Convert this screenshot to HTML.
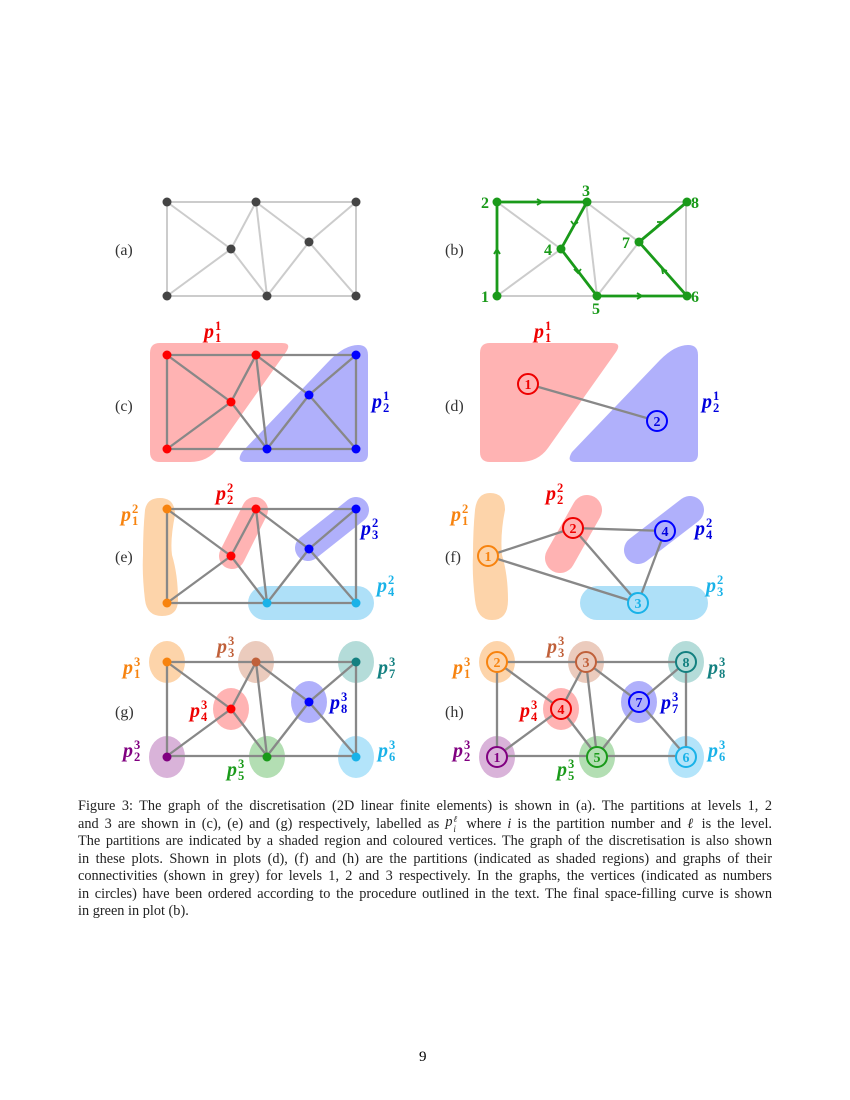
<!DOCTYPE html>
<html><head><meta charset="utf-8"><style>
html,body{margin:0;padding:0;background:#fff;}
body{width:850px;height:1100px;position:relative;overflow:hidden;font-family:"Liberation Serif",serif;}
.cap{position:absolute;left:78px;top:798px;width:694px;font-size:14.3px;line-height:17.5px;color:#222;}
.cap div{text-align:justify;text-align-last:justify;white-space:nowrap;height:17.5px;}
.cap div.last{text-align-last:left;}
.pi{display:inline-block;position:relative;width:15px;height:10px;}
.pi i.a{position:absolute;left:0;top:-4px;}
.pi b{position:absolute;left:8px;font-weight:normal;font-style:italic;font-size:9px;}
.pn{position:absolute;left:419px;top:1049px;font-size:15px;}
svg text{font-family:"Liberation Serif",serif;}
.pl{font-weight:bold;font-style:italic;font-size:20px;}
.pl tspan{font-size:12.5px;font-style:normal;}
.lb{font-size:16px;fill:#333;}
.nm{font-size:14px;font-weight:bold;text-anchor:middle;}
</style></head><body>
<svg width="850" height="1100" style="position:absolute;left:0;top:0">
<defs>
<g id="E">
<line x1="0" y1="0" x2="189" y2="0"/><line x1="0" y1="94" x2="189" y2="94"/>
<line x1="0" y1="0" x2="0" y2="94"/><line x1="189" y1="0" x2="189" y2="94"/>
<line x1="0" y1="0" x2="64" y2="47"/><line x1="64" y1="47" x2="89" y2="0"/>
<line x1="64" y1="47" x2="0" y2="94"/><line x1="64" y1="47" x2="100" y2="94"/>
<line x1="89" y1="0" x2="100" y2="94"/><line x1="89" y1="0" x2="142" y2="40"/>
<line x1="142" y1="40" x2="189" y2="0"/><line x1="142" y1="40" x2="100" y2="94"/>
<line x1="142" y1="40" x2="189" y2="94"/>
</g>
</defs>
<g class="lb">
<text x="115" y="255">(a)</text><text x="445" y="255">(b)</text>
<text x="115" y="411">(c)</text><text x="445" y="411">(d)</text>
<text x="115" y="562">(e)</text><text x="445" y="562">(f)</text>
<text x="115" y="717">(g)</text><text x="445" y="717">(h)</text>
</g>

<!-- (a) -->
<use href="#E" x="167" y="202" stroke="#ccc" stroke-width="2"/>
<g fill="#444">
<circle cx="167" cy="202" r="4.5"/><circle cx="256" cy="202" r="4.5"/><circle cx="356" cy="202" r="4.5"/>
<circle cx="231" cy="249" r="4.5"/><circle cx="309" cy="242" r="4.5"/>
<circle cx="167" cy="296" r="4.5"/><circle cx="267" cy="296" r="4.5"/><circle cx="356" cy="296" r="4.5"/>
</g>

<!-- (b) -->
<use href="#E" x="497" y="202" stroke="#ccc" stroke-width="2"/>
<polyline points="497,296 497,202 587,202 561,249 597,296 687,296 639,242 687,202" fill="none" stroke="#1a9a1a" stroke-width="2.8" stroke-linejoin="round"/>
<g fill="none" stroke="#1a9a1a" stroke-width="1.8">
<polyline points="494,254 497,249 500,254"/>
<polyline points="537,199 542,202 537,205"/>
<polyline points="571,221 574,225 578,222"/>
<polyline points="574,269 578,273 581,269"/>
<polyline points="637,293 642,296 637,299"/>
<polyline points="667,271 662,269 663,274"/>
<polyline points="656,227 662,222 657,222"/>
</g>
<g fill="#1a9a1a">
<circle cx="497" cy="296" r="4.5"/><circle cx="497" cy="202" r="4.5"/><circle cx="587" cy="202" r="4.5"/>
<circle cx="561" cy="249" r="4.5"/><circle cx="597" cy="296" r="4.5"/><circle cx="687" cy="296" r="4.5"/>
<circle cx="639" cy="242" r="4.5"/><circle cx="687" cy="202" r="4.5"/>
<g font-size="16" font-weight="bold">
<text x="481" y="302">1</text><text x="481" y="208">2</text><text x="582" y="196">3</text>
<text x="544" y="255">4</text><text x="592" y="314">5</text><text x="691" y="302">6</text>
<text x="622" y="248">7</text><text x="691" y="208">8</text>
</g></g>

<!-- (c) -->
<path d="M160,343 L282,343 Q292,343 286,352 L218,448 Q208,462 190,462 L160,462 Q150,462 150,452 L150,353 Q150,343 160,343Z" fill="#ffb3b3"/>
<path d="M245,462 L360,462 Q368,462 368,454 L368,355 Q368,345 358,345 Q345,345 330,360 L242,452 Q236,462 245,462Z" fill="#b0b0fb"/>
<use href="#E" x="167" y="355" stroke="#888" stroke-width="2.3"/>
<g fill="#f00"><circle cx="167" cy="355" r="4.5"/><circle cx="256" cy="355" r="4.5"/><circle cx="231" cy="402" r="4.5"/><circle cx="167" cy="449" r="4.5"/></g>
<g fill="#00f"><circle cx="356" cy="355" r="4.5"/><circle cx="309" cy="395" r="4.5"/><circle cx="267" cy="449" r="4.5"/><circle cx="356" cy="449" r="4.5"/></g>
<text class="pl" x="204" y="338" fill="#e00">p<tspan x="215" y="330">1</tspan><tspan x="215" y="342">1</tspan></text>
<text class="pl" x="372" y="408" fill="#00d">p<tspan x="383" y="400">1</tspan><tspan x="383" y="412">2</tspan></text>

<!-- (d) -->
<path d="M490,343 L612,343 Q622,343 616,352 L548,448 Q538,462 520,462 L490,462 Q480,462 480,452 L480,353 Q480,343 490,343Z" fill="#ffb3b3"/>
<path d="M575,462 L690,462 Q698,462 698,454 L698,355 Q698,345 688,345 Q675,345 660,360 L572,452 Q566,462 575,462Z" fill="#b0b0fb"/>
<line x1="528" y1="384" x2="657" y2="421" stroke="#888" stroke-width="2.3"/>
<circle cx="528" cy="384" r="10" fill="#ffb3b3" stroke="#e00" stroke-width="2"/>
<text class="nm" x="528" y="389" fill="#e00">1</text>
<circle cx="657" cy="421" r="10" fill="#b0b0fb" stroke="#00f" stroke-width="2"/>
<text class="nm" x="657" y="426" fill="#00d">2</text>
<text class="pl" x="534" y="338" fill="#e00">p<tspan x="545" y="330">1</tspan><tspan x="545" y="342">1</tspan></text>
<text class="pl" x="702" y="408" fill="#00d">p<tspan x="713" y="400">1</tspan><tspan x="713" y="412">2</tspan></text>

<!-- (e) -->
<path d="M160,498 Q175,498 175,515 Q170,540 172,555 Q178,575 178,600 Q178,616 162,616 Q147,616 145,600 Q142,575 143,555 Q143,530 145,510 Q147,498 160,498Z" fill="#fdd4aa"/>
<line x1="255" y1="510" x2="232" y2="556" stroke="#ffb3b3" stroke-width="26" stroke-linecap="round"/>
<line x1="356" y1="510" x2="308" y2="548" stroke="#b0b0fb" stroke-width="26" stroke-linecap="round"/>
<line x1="265" y1="603" x2="357" y2="603" stroke="#aee0f8" stroke-width="34" stroke-linecap="round"/>
<use href="#E" x="167" y="509" stroke="#888" stroke-width="2.3"/>
<g fill="#f7830f"><circle cx="167" cy="509" r="4.5"/><circle cx="167" cy="603" r="4.5"/></g>
<g fill="#f00"><circle cx="256" cy="509" r="4.5"/><circle cx="231" cy="556" r="4.5"/></g>
<g fill="#00f"><circle cx="356" cy="509" r="4.5"/><circle cx="309" cy="549" r="4.5"/></g>
<g fill="#19b2e8"><circle cx="267" cy="603" r="4.5"/><circle cx="356" cy="603" r="4.5"/></g>
<text class="pl" x="121" y="521" fill="#f7830f">p<tspan x="132" y="513">2</tspan><tspan x="132" y="525">1</tspan></text>
<text class="pl" x="216" y="500" fill="#e00">p<tspan x="227" y="492">2</tspan><tspan x="227" y="504">2</tspan></text>
<text class="pl" x="361" y="535" fill="#00d">p<tspan x="372" y="527">2</tspan><tspan x="372" y="539">3</tspan></text>
<text class="pl" x="377" y="592" fill="#19b2e8">p<tspan x="388" y="584">2</tspan><tspan x="388" y="596">4</tspan></text>

<!-- (f) -->
<path d="M490,493 Q505,493 505,510 Q500,535 502,555 Q508,575 508,600 Q508,620 492,620 Q477,620 475,600 Q472,575 473,555 Q473,530 475,510 Q477,493 490,493Z" fill="#fdd4aa"/>
<line x1="587" y1="510" x2="560" y2="558" stroke="#ffb3b3" stroke-width="30" stroke-linecap="round"/>
<line x1="690" y1="510" x2="638" y2="550" stroke="#b0b0fb" stroke-width="28" stroke-linecap="round"/>
<line x1="597" y1="603" x2="691" y2="603" stroke="#aee0f8" stroke-width="34" stroke-linecap="round"/>
<g stroke="#888" stroke-width="2.3">
<line x1="488" y1="556" x2="573" y2="528"/><line x1="488" y1="556" x2="638" y2="603"/>
<line x1="573" y1="528" x2="665" y2="531"/><line x1="573" y1="528" x2="638" y2="603"/>
<line x1="665" y1="531" x2="638" y2="603"/>
</g>
<g stroke-width="2">
<circle cx="488" cy="556" r="10" fill="#fdd4aa" stroke="#f7830f"/>
<circle cx="573" cy="528" r="10" fill="#ffb3b3" stroke="#e00"/>
<circle cx="665" cy="531" r="10" fill="#b0b0fb" stroke="#00f"/>
<circle cx="638" cy="603" r="10" fill="#aee0f8" stroke="#19b2e8"/>
</g>
<text class="nm" x="488" y="561" fill="#f7830f">1</text>
<text class="nm" x="573" y="533" fill="#e00">2</text>
<text class="nm" x="665" y="536" fill="#00d">4</text>
<text class="nm" x="638" y="608" fill="#19b2e8">3</text>
<text class="pl" x="451" y="521" fill="#f7830f">p<tspan x="462" y="513">2</tspan><tspan x="462" y="525">1</tspan></text>
<text class="pl" x="546" y="500" fill="#e00">p<tspan x="557" y="492">2</tspan><tspan x="557" y="504">2</tspan></text>
<text class="pl" x="695" y="535" fill="#00d">p<tspan x="706" y="527">2</tspan><tspan x="706" y="539">4</tspan></text>
<text class="pl" x="706" y="592" fill="#19b2e8">p<tspan x="717" y="584">2</tspan><tspan x="717" y="596">3</tspan></text>

<!-- (g) -->
<g>
<ellipse cx="167" cy="662" rx="18" ry="21" fill="#fdd4aa"/>
<ellipse cx="256" cy="662" rx="18" ry="21" fill="#ebcbbd"/>
<ellipse cx="356" cy="662" rx="18" ry="21" fill="#b4dcd9"/>
<ellipse cx="231" cy="709" rx="18" ry="21" fill="#ffb3b3"/>
<ellipse cx="309" cy="702" rx="18" ry="21" fill="#b0b0fb"/>
<ellipse cx="167" cy="757" rx="18" ry="21" fill="#d9b3d9"/>
<ellipse cx="267" cy="757" rx="18" ry="21" fill="#b3deb3"/>
<ellipse cx="356" cy="757" rx="18" ry="21" fill="#b3e4fa"/>
</g>
<use href="#E" x="167" y="662" stroke="#888" stroke-width="2.3"/>
<circle cx="167" cy="662" r="4.5" fill="#f7830f"/><circle cx="256" cy="662" r="4.5" fill="#c0603a"/>
<circle cx="356" cy="662" r="4.5" fill="#138080"/><circle cx="231" cy="709" r="4.5" fill="#f00"/>
<circle cx="309" cy="702" r="4.5" fill="#00f"/><circle cx="167" cy="757" r="4.5" fill="#800080"/>
<circle cx="267" cy="757" r="4.5" fill="#1a9a1a"/><circle cx="356" cy="757" r="4.5" fill="#19b2e8"/>
<text class="pl" x="123" y="674" fill="#f7830f">p<tspan x="134" y="666">3</tspan><tspan x="134" y="678">1</tspan></text>
<text class="pl" x="217" y="653" fill="#c0603a">p<tspan x="228" y="645">3</tspan><tspan x="228" y="657">3</tspan></text>
<text class="pl" x="378" y="674" fill="#138080">p<tspan x="389" y="666">3</tspan><tspan x="389" y="678">7</tspan></text>
<text class="pl" x="190" y="717" fill="#e00">p<tspan x="201" y="709">3</tspan><tspan x="201" y="721">4</tspan></text>
<text class="pl" x="330" y="709" fill="#00d">p<tspan x="341" y="701">3</tspan><tspan x="341" y="713">8</tspan></text>
<text class="pl" x="123" y="757" fill="#800080">p<tspan x="134" y="749">3</tspan><tspan x="134" y="761">2</tspan></text>
<text class="pl" x="227" y="776" fill="#1a9a1a">p<tspan x="238" y="768">3</tspan><tspan x="238" y="780">5</tspan></text>
<text class="pl" x="378" y="757" fill="#19b2e8">p<tspan x="389" y="749">3</tspan><tspan x="389" y="761">6</tspan></text>

<!-- (h) -->
<g>
<ellipse cx="497" cy="662" rx="18" ry="21" fill="#fdd4aa"/>
<ellipse cx="586" cy="662" rx="18" ry="21" fill="#ebcbbd"/>
<ellipse cx="686" cy="662" rx="18" ry="21" fill="#b4dcd9"/>
<ellipse cx="561" cy="709" rx="18" ry="21" fill="#ffb3b3"/>
<ellipse cx="639" cy="702" rx="18" ry="21" fill="#b0b0fb"/>
<ellipse cx="497" cy="757" rx="18" ry="21" fill="#d9b3d9"/>
<ellipse cx="597" cy="757" rx="18" ry="21" fill="#b3deb3"/>
<ellipse cx="686" cy="757" rx="18" ry="21" fill="#b3e4fa"/>
</g>
<use href="#E" x="497" y="662" stroke="#888" stroke-width="2.3"/>
<g stroke-width="2">
<circle cx="497" cy="662" r="10" fill="#fdd4aa" stroke="#f7830f"/>
<circle cx="586" cy="662" r="10" fill="#ebcbbd" stroke="#c0603a"/>
<circle cx="686" cy="662" r="10" fill="#b4dcd9" stroke="#138080"/>
<circle cx="561" cy="709" r="10" fill="#ffb3b3" stroke="#e00"/>
<circle cx="639" cy="702" r="10" fill="#b0b0fb" stroke="#00f"/>
<circle cx="497" cy="757" r="10" fill="#d9b3d9" stroke="#800080"/>
<circle cx="597" cy="757" r="10" fill="#b3deb3" stroke="#1a9a1a"/>
<circle cx="686" cy="757" r="10" fill="#b3e4fa" stroke="#19b2e8"/>
</g>
<text class="nm" x="497" y="667" fill="#f7830f">2</text>
<text class="nm" x="586" y="667" fill="#c0603a">3</text>
<text class="nm" x="686" y="667" fill="#138080">8</text>
<text class="nm" x="561" y="714" fill="#e00">4</text>
<text class="nm" x="639" y="707" fill="#00d">7</text>
<text class="nm" x="497" y="762" fill="#800080">1</text>
<text class="nm" x="597" y="762" fill="#1a9a1a">5</text>
<text class="nm" x="686" y="762" fill="#19b2e8">6</text>
<text class="pl" x="453" y="674" fill="#f7830f">p<tspan x="464" y="666">3</tspan><tspan x="464" y="678">1</tspan></text>
<text class="pl" x="547" y="653" fill="#c0603a">p<tspan x="558" y="645">3</tspan><tspan x="558" y="657">3</tspan></text>
<text class="pl" x="708" y="674" fill="#138080">p<tspan x="719" y="666">3</tspan><tspan x="719" y="678">8</tspan></text>
<text class="pl" x="520" y="717" fill="#e00">p<tspan x="531" y="709">3</tspan><tspan x="531" y="721">4</tspan></text>
<text class="pl" x="661" y="709" fill="#00d">p<tspan x="672" y="701">3</tspan><tspan x="672" y="713">7</tspan></text>
<text class="pl" x="453" y="757" fill="#800080">p<tspan x="464" y="749">3</tspan><tspan x="464" y="761">2</tspan></text>
<text class="pl" x="557" y="776" fill="#1a9a1a">p<tspan x="568" y="768">3</tspan><tspan x="568" y="780">5</tspan></text>
<text class="pl" x="708" y="757" fill="#19b2e8">p<tspan x="719" y="749">3</tspan><tspan x="719" y="761">6</tspan></text>
</svg>

<div class="cap">
<div>Figure 3: The graph of the discretisation (2D linear finite elements) is shown in (a). The partitions at levels 1, 2</div>
<div>and 3 are shown in (c), (e) and (g) respectively, labelled as <span class="pi"><i class="a">p</i><b style="top:-7px">ℓ</b><b style="top:3px">i</b></span> where <i>i</i> is the partition number and <i>ℓ</i> is the level.</div>
<div>The partitions are indicated by a shaded region and coloured vertices. The graph of the discretisation is also shown</div>
<div>in these plots. Shown in plots (d), (f) and (h) are the partitions (indicated as shaded regions) and graphs of their</div>
<div>connectivities (shown in grey) for levels 1, 2 and 3 respectively. In the graphs, the vertices (indicated as numbers</div>
<div>in circles) have been ordered according to the procedure outlined in the text. The final space-filling curve is shown</div>
<div class="last">in green in plot (b).</div>
</div>
<div class="pn">9</div>
</body></html>
